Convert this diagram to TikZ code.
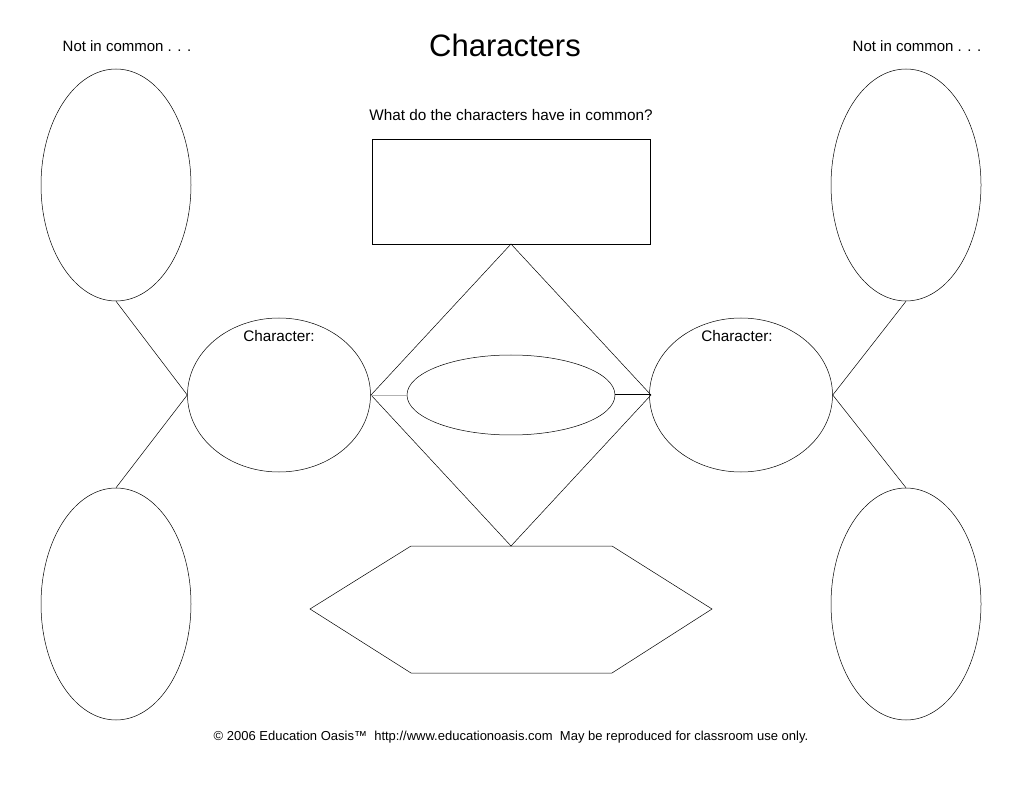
\documentclass[tikz,border=0pt]{standalone}
\usepackage{fontspec}
\setmainfont{Liberation Sans}
\usetikzlibrary{shapes.geometric}
\begin{document}
\begin{tikzpicture}[x=1pt,y=-1pt,
  oval/.style={draw,ellipse,line width=0.5pt,inner sep=0pt},
  bigoval/.style={oval,minimum width=150pt,minimum height=232pt},
  charoval/.style={oval,minimum width=183pt,minimum height=154pt},
  lbl/.style={font=\fontsize{15.3}{17}\selectfont,inner sep=0pt},
  conn/.style={line width=0.5pt}]
\useasboundingbox (0,0) rectangle (1023,791);
\node[font=\fontsize{31}{35}\selectfont,inner sep=0pt] (title) at (505,45) {Characters};
\node[lbl,font=\fontsize{15}{17}\selectfont] (nl) at (127,46) {Not in common . . .};
\node[lbl,font=\fontsize{15}{17}\selectfont] (nr) at (917,46) {Not in common . . .};
\node[lbl] (q) at (511,115) {What do the characters have in common?};
\node[bigoval] (lt) at (116,185) {};
\node[bigoval] (lb) at (116,604) {};
\node[bigoval] (rt) at (906,185) {};
\node[bigoval] (rb) at (906,604) {};
\node[charoval] (lc) at (279,395) {};
\node[charoval] (rc) at (741,395) {};
\node[lbl] (lct) at (279,336) {Character:};
\node[lbl] (rct) at (737,336) {Character:};
\node[draw,line width=0.5pt,minimum width=278pt,minimum height=105pt,inner sep=0pt] (box) at (511,191.5) {};
\coordinate (dt) at (511,244);
\coordinate (dl) at (371,395);
\coordinate (dr) at (651,395);
\coordinate (db) at (511,546);
\draw[conn] (dt) -- (dr) -- (db) -- (dl) -- cycle;
\node[oval,minimum width=208pt,minimum height=80pt] (mid) at (511,395) {};
\draw[conn,gray!60] (dl) -- (mid.west);
\draw[line width=1pt] (mid.east) -- (dr);
\draw[conn] (310,609) coordinate (h1) -- (411,546) coordinate (h2) -- (612,546) coordinate (h3) -- (712,609) coordinate (h4) -- (612,673) coordinate (h5) -- (411,673) coordinate (h6) -- cycle;
\draw[conn] (lt.south) -- (lc.west);
\draw[conn] (lb.north) -- (lc.west);
\draw[conn] (rt.south) -- (rc.east);
\draw[conn] (rb.north) -- (rc.east);
\node[font=\fontsize{13}{15}\selectfont,inner sep=0pt] (foot) at (511,737) {© 2006 Education Oasis™\ \ http://www.educationoasis.com\ \ May be reproduced for classroom use only.};
\end{tikzpicture}
\end{document}
